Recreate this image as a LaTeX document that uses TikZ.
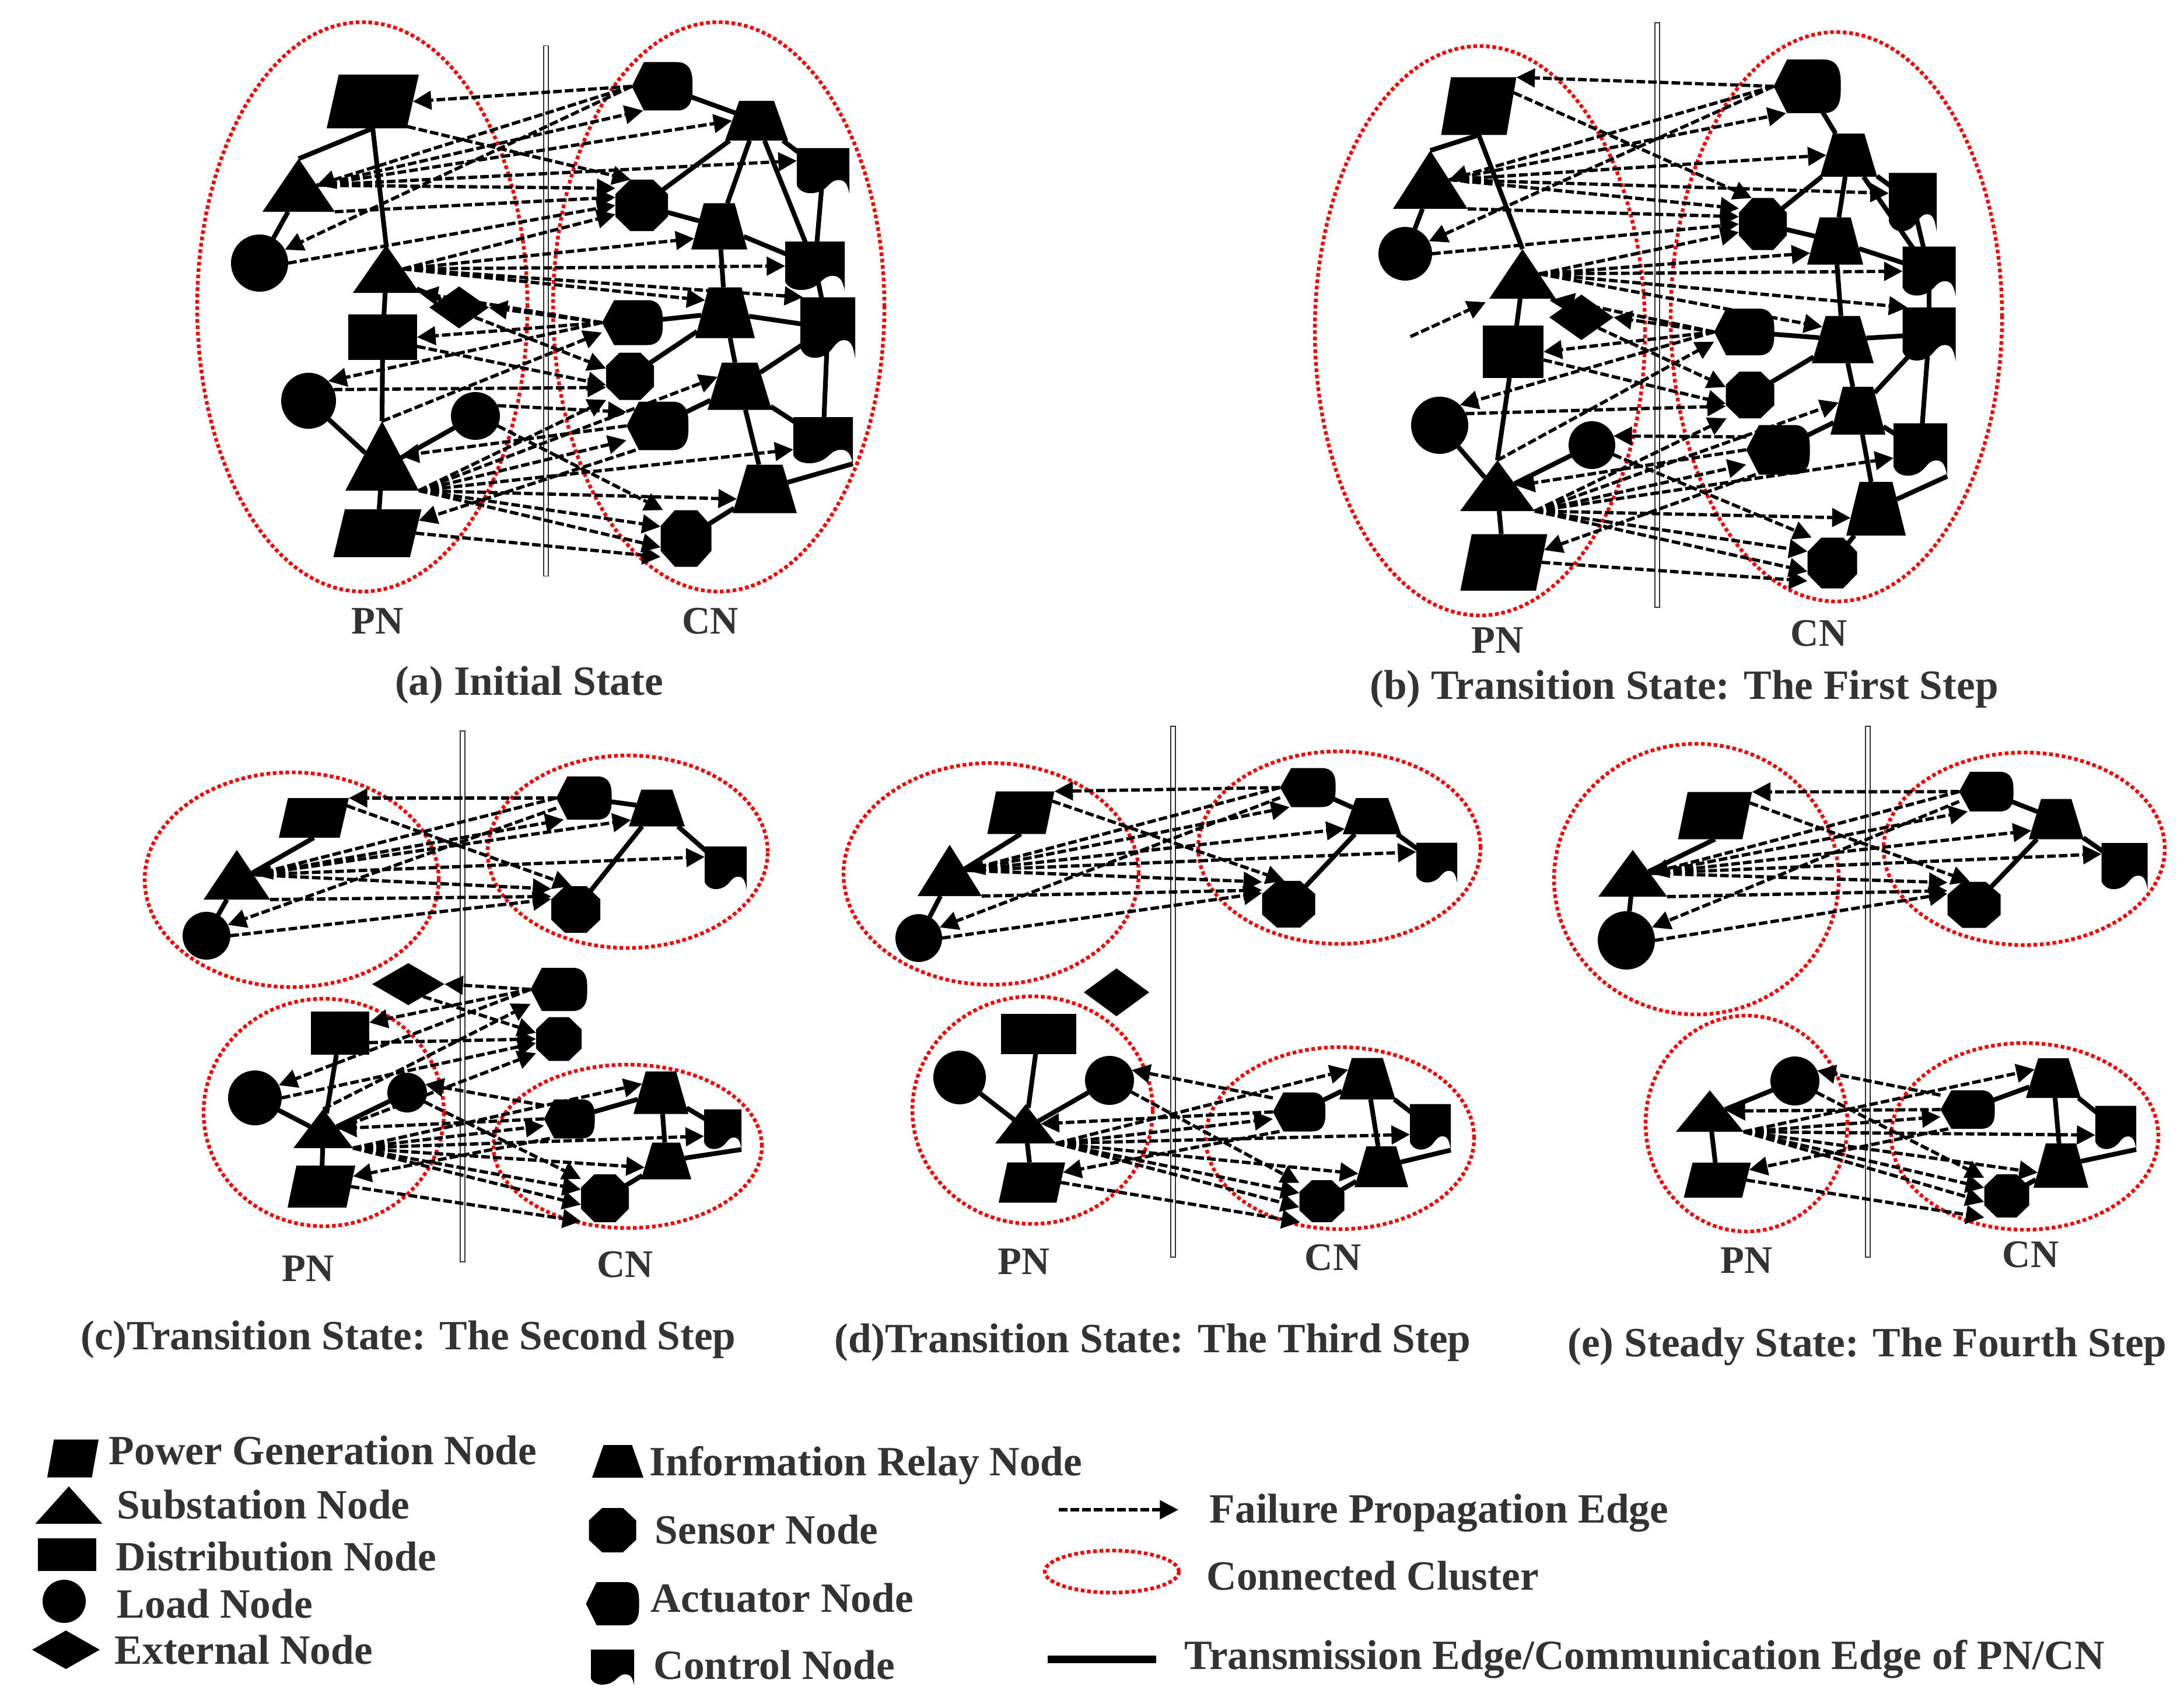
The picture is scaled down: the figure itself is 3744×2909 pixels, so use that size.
\documentclass[tikz,border=0pt]{standalone}
\usepackage{fontspec}
\setmainfont{Liberation Serif}
\usetikzlibrary{shapes.geometric,arrows.meta}
\definecolor{labelgray}{HTML}{333333}
\tikzset{
  blob/.style={fill=black,inner sep=0pt,outer sep=0pt},
  gennode/.style 2 args={blob,trapezium,trapezium left angle=80,trapezium right angle=100,inner sep=5pt,
    trapezium stretches,minimum width=#1*0.01cm,minimum height=#2*0.01cm},
  rlynode/.style 2 args={blob,trapezium,trapezium left angle=68,trapezium right angle=68,inner sep=5pt,
    trapezium stretches,minimum width=#1*0.01cm,minimum height=#2*0.01cm},
  subnode/.style 2 args={blob,isosceles triangle,isosceles triangle stretches,shape border rotate=90,
    anchor=lower side,minimum width=#1*0.01cm,minimum height=#2*0.01cm},
  distnode/.style 2 args={blob,rectangle,minimum width=#1*0.01cm,minimum height=#2*0.01cm},
  loadnode/.style 2 args={blob,ellipse,minimum width=#1*0.01cm,minimum height=#2*0.01cm},
  extnode/.style 2 args={blob,diamond,minimum width=#1*0.01cm,minimum height=#2*0.01cm},
  boxnode/.style 2 args={rectangle,inner sep=0pt,outer sep=0pt,minimum width=#1*0.01cm,minimum height=#2*0.01cm},
  clust/.style 2 args={ellipse,draw=red,line width=1.8pt,dash pattern=on 1.8pt off 1.3pt,
    inner sep=0pt,minimum width=#1*0.01cm,minimum height=#2*0.01cm},
  barnode/.style={rectangle,draw=black!80,fill=white,line width=0.5pt,inner sep=0pt,minimum width=0.08cm},
  txt/.style={text=labelgray,font=\fontsize{20.3}{24}\selectfont\bfseries,inner sep=0pt},
  pnlabel/.style={text=labelgray,font=\fontsize{19}{22}\selectfont\bfseries,inner sep=0pt},
  edgeline/.style={line width=2.3pt},
  failline/.style={line width=1.6pt,dash pattern=on 4.2pt off 1.5pt,-{Triangle[length=9pt,width=9pt]}},
}
% outlines of the odd shapes, in the unit square of their box
\newcommand{\senpath}{(.28,0) -- (.72,0) -- (1,.28) -- (1,.72) -- (.72,1) -- (.28,1) -- (0,.72) -- (0,.28) -- cycle}
\newcommand{\actpath}{(0,.5) -- (.2,1) -- (.75,1) .. controls (.92,1) and (1,.85) .. (1,.6) -- (1,.4)
  .. controls (1,.15) and (.92,0) .. (.75,0) -- (.2,0) -- cycle}
\newcommand{\ctlpath}{(0,1) -- (1,1) -- (1,0) .. controls (.97,.18) and (.93,.3) .. (.8,.3)
  .. controls (.66,.3) and (.62,.18) .. (.52,.1) .. controls (.36,-.03) and (.08,-.03) .. (0,.18) -- cycle}
\begin{document}
\begin{tikzpicture}[x=0.01cm,y=-0.01cm]
  \useasboundingbox (0,0) rectangle (3744,2909);

  % separators and clusters
  \foreach \n/\x/\y/\h in {aBar/936/533/909,bBar/2841/540/1002,cBar/793/1708/910,dBar/2011/1700/910,eBar/3202/1700/910}
    \node[barnode,minimum height=\h*0.01cm] (\n) at (\x,\y) {};
  \foreach \n/\x/\y/\w/\h in {aPN/621/526/566/976,aCN/1232/526/568/976,bPN/2537/567/566/976,bCN/3148/543/568/976,
      cPN1/500/1508/504/368,cCN1/1076/1460/480/330,cPN2/555/1907/412/390,cCN2/1076/1965/460/280,
      dPN1/1699/1498/506/380,dCN1/2296/1453/484/330,dPN2/1770/1903/412/390,dCN2/2297/1951/460/312,
      ePN1/2908/1507/488/464,eCN1/3470/1455/482/330,ePN2/2994/1926/346/370,eCN2/3471/1948/458/320}
    \node[clust={\w}{\h}] (\n) at (\x,\y) {};

  % power side
  \foreach \n/\x/\y/\w/\h in {aGen1/639/174/158/92,aGen2/647/914/151/82,bGen1/2535/182/129/99,bGen2/2578/964/149/97,
      cGen1/538/1402/120/68,cGen2/551/2034/116/72,dGen1/1750/1393/115/73,dGen2/1769/2027/114/69,
      eGen1/2940/1398/127/81,eGen2/2944/2023/115/60,lgGen/125/2500/88/65}
    \node[gennode={\w}{\h}] (\n) at (\x,\y) {};
  \foreach \n/\x/\y/\w/\h in {aSub1/512/363/124/91,aSub2/662/502/114/82,aSub3/655/841/126/119,
      bSub1/2452/358/128/100,bSub2/2610/512/114/85,bSub3/2567/876/128/87,
      cSub1/406/1542/114/85,cSub3/554/1968/102/67,dSub1/1628/1536/110/88,dSub3/1758/1960/104/67,
      eSub1/2799/1537/118/80,eSub3/2931/1940/116/71,lgSub/118/2612/115/64}
    \node[subnode={\w}{\h}] (\n) at (\x,\y) {};
  \foreach \n/\x/\y/\w/\h in {aDist/656/578/118/78,bDist/2594/603/104/90,cDist/583/1771/100/74,dDist/1780/1772/129/69,lgDist/115/2665/100/56}
    \node[distnode={\w}{\h}] (\n) at (\x,\y) {};
  \foreach \n/\x/\y/\w/\h in {aLoad1/445/451/98/98,aLoad2/529/687/94/96,aLoad3/815/713/84/82,
      bLoad1/2409/435/92/92,bLoad2/2468/729/98/98,bLoad3/2729/763/80/82,
      cLoad1/354/1604/82/82,cLoad2/437/1882/92/94,cLoad3/698/1873/68/68,
      dLoad1/1575/1608/80/82,dLoad2/1645/1847/90/92,dLoad3/1902/1852/84/84,
      eLoad1/2788/1612/98/100,eLoad3/3077/1853/84/84,lgLoad/110/2745/74/74}
    \node[loadnode={\w}{\h}] (\n) at (\x,\y) {};
  \foreach \n/\x/\y/\w/\h in {aExt/787/527/102/72,bExt/2711/544/110/78,cExt/700/1687/124/72,dExt/1914/1701/112/82,lgExt/113/2828/116/66}
    \node[extnode={\w}{\h}] (\n) at (\x,\y) {};

  % cyber side
  \foreach \n/\x/\y/\w/\h in {aAct1/1135/148/104/83,aAct2/1084/553/104/77,aAct3/1127/730/106/83,
      bAct1/3098/148/115/92,bAct2/2990/569/103/80,bAct3/3048/771/109/85,
      cAct1/1001/1368/95/74,cAct2/958/1696/97/74,cAct3/976/1918/87/67,
      dAct1/2242/1350/95/67,dAct3/2227/1906/90/67,eAct1/3405/1357/93/68,eAct3/3373/1902/93/66,lgAct/1050/2749/91/74}{
    \node[boxnode={\w}{\h}] (\n) at (\x,\y) {};
    \fill[shift={(\n.south west)},x=\w*0.01cm,y=\h*0.01cm] \actpath;
  }
  \foreach \n/\x/\y/\w/\h in {aCtl1/1411/293/90/78,aCtl2/1397/456/102/84,aCtl3/1419/562/94/105,aCtl4/1411/755/102/80,
      bCtl1/3279/347/82/101,bCtl2/3307/465/91/85,bCtl3/3307/573/91/92,bCtl4/3292/771/92/91,
      cCtl1/1244/1488/72/74,cCtl3/1239/1936/64/69,dCtl1/2463/1479/70/69,dCtl3/2452/1932/70/79,
      eCtl1/3642/1485/79/80,eCtl3/3627/1933/70/75,lgCtl/1050/2858/74/61}{
    \node[boxnode={\w}{\h}] (\n) at (\x,\y) {};
    \fill[shift={(\n.south west)},x=\w*0.01cm,y=\h*0.01cm] \ctlpath;
  }
  \foreach \n/\x/\y/\w/\h in {aSen1/1100/352/90/88,aSen2/1080/645/82/81,aSen3/1176/923/87/97,
      bSen1/3022/384/82/89,bSen2/3000/677/83/80,bSen3/3141/965/85/87,
      cSen1/987/1559/84/80,cSen2/958/1781/78/75,cSen3/1037/2054/82/82,
      dSen1/2209/1550/91/80,dSen3/2266/2059/77/72,eSen1/3384/1551/91/79,eSen3/3440/2050/77/74,lgSen/1050/2623/81/76}{
    \node[boxnode={\w}{\h}] (\n) at (\x,\y) {};
    \fill[shift={(\n.south west)},x=\w*0.01cm,y=\h*0.01cm] \senpath;
  }
  \foreach \n/\x/\y/\w/\h in {aRly1/1297/207/108/68,aRly2/1233/388/96/79,aRly3/1243/536/102/87,aRly4/1268/662/110/81,aRly5/1311/838/110/83,
      bRly1/3169/266/98/74,bRly2/3146/413/96/81,bRly3/3159/582/106/81,bRly4/3185/704/94/82,bRly5/3216/872/102/92,
      cRly1/1126/1385/96/63,cRly3/1133/1873/94/73,cRly4/1142/1990/86/63,
      dRly1/2352/1399/100/62,dRly3/2344/1849/96/71,dRly4/2368/2000/92/70,
      eRly1/3525/1404/94/69,eRly3/3520/1848/94/68,eRly4/3533/1998/94/76,lgRly/1059/2505/88/56}
    \node[rlynode={\w}{\h}] (\n) at (\x,\y) {};

  % solid links
  \foreach \p in {a,b}{
    \foreach \s/\t in {Gen1.south/Sub1.apex,Gen1.south/Sub2.apex,Sub1/Load1,Sub2/Ext,Sub2/Dist,Dist/Sub3.apex,
        Load2/Sub3,Load3/Sub3,Sub3/Gen2,Act1.center/Rly1,Rly1/Ctl1.center,Rly1/Sen1.center,Rly1/Rly2,Rly1/Ctl2.center,
        Sen1.center/Rly2,Rly2/Ctl2.center,Ctl1.center/Ctl2.center,Rly2/Rly3,Ctl2.center/Ctl3.center,Act2.center/Rly3,
        Rly3/Ctl3.center,Sen2.center/Rly3,Rly3/Rly4,Rly4/Ctl3.center,Rly4/Ctl4.center,Act3.center/Rly4,
        Rly4/Rly5,Ctl3.center/Ctl4.center,Rly5/Ctl4.south east,Sen3.center/Rly5}
      \draw[edgeline] (\p\s) -- (\p\t);
  }
  \foreach \p in {c,d,e}{
    \foreach \s/\t in {Gen1.south/Sub1,Sub1/Load1,Act1.center/Rly1,Rly1/Ctl1.center,Rly1/Sen1.center,Load3/Sub3,Sub3/Gen2,
        Act3.center/Rly3,Rly3/Ctl3.center,Rly3/Rly4,Rly4/Ctl3.south east,Sen3.center/Rly4}
      \draw[edgeline] (\p\s) -- (\p\t);
  }
  \foreach \p in {c,d}{
    \foreach \s/\t in {Dist/Sub3,Load2/Sub3}
      \draw[edgeline] (\p\s) -- (\p\t);
  }

  % failure links, first row
  \foreach \p in {a,b}{
    \foreach \s/\t in {Act1.west/Sub1.right side,Act1.west/Load1.28,Sub1.right side/Act1.232,Sub1.right side/Rly1.west,
        Sub1.right side/Ctl1.159,Sub1.right side/Sen1.147,Sub1.right corner/Sen1.163,Load1.east/Sen1.180,
        Sub2.right side/Sen1.199,Sub2.right side/Rly2.206,Sub2.right side/Ctl2.west,Sub2.right side/Ctl3.129,
        Sub2.right side/Rly3.148,Act2.west/Sub2.right corner,Act2.west/Ext.east,Act2.west/Dist.east,Act2.west/Load2.45,
        Sub3.apex/Act2.198,Ext.-32/Sen2.162,Dist.-15/Sen2.200,Load2.24/Sen2.205,Sub3.right corner/Sen2.225,
        Act3.west/Sub3.right side,Sub3.right corner/Act3.205,Sub3.right corner/Rly4.157,Sub3.right corner/Ctl4.197,
        Act3.228/Gen2.17,Sub3.right corner/Rly5.200,Load3.-24/Sen3.129,Sub3.right corner/Sen3.155,
        Sub3.right corner/Sen3.199,Gen2.east/Sen3.216}
      \draw[failline] (\p\s) -- (\p\t);
  }
  \foreach \s/\t in {aAct1.west/aGen1.east,aGen1.-36/aSen1.113,aLoad3.25/aAct3.156,
      bAct1.west/bGen1.top right corner,bGen1.21/bSen1.113,bAct3.158/bLoad3.23}
    \draw[failline] (\s) -- (\t);
  \coordinate (bStrayA) at (2418,577);
  \coordinate (bStrayB) at (2547,518);
  \draw[failline] (bStrayA) -- (bStrayB);

  % failure links, second row
  \foreach \p in {c,d,e}{
    \foreach \s/\t in {Act1.west/Gen1.top right corner,Gen1.20/Sen1.100,Act1.west/Sub1.right side,Sub1.right side/Act1.227,
        Sub1.right side/Rly1.205,Sub1.right side/Ctl1.152,Sub1.right side/Sen1.140,Sub1.right corner/Sen1.152,
        Act1.200/Load1.27,Load1.east/Sen1.157,Act3.152/Load3.25,Load3.-28/Sen3.141,Act3.west/Sub3.right side,
        Sub3.right corner/Act3.195,Sub3.right corner/Rly3.155,Sub3.right corner/Ctl3.200,Act3.225/Gen2.18,
        Sub3.right corner/Rly4.197,Sub3.right corner/Sen3.160,Sub3.right corner/Sen3.195,Gen2.east/Sen3.224}
      \draw[failline] (\p\s) -- (\p\t);
  }
  \foreach \s/\t in {Act2.west/Ext.east,Ext.-40/Sen2.165,Act2.west/Dist.20,Act2.west/Load2.28,Sub3.apex/Act2.207,
      Dist.-18/Sen2.west,Load2.east/Sen2.190,Sub3.right side/Sen2.212}
    \draw[failline] (c\s) -- (c\t);

  % texts
  \foreach \n/\x/\y/\t in {aPNt/647/1065/PN,aCNt/1218/1065/CN,bPNt/2567/1098/PN,bCNt/3118/1086/CN,cPNt/528/2175/PN,cCNt/1072/2168/CN,
      dPNt/1755/2163/PN,dCNt/2285/2156/CN,ePNt/2994/2161/PN,eCNt/3481/2151/CN}
    \node[pnlabel] (\n) at (\x,\y) {\t};
  \node[txt] (aCap) at (907,1174) {(a) Initial State};
  \node[txt] (bCap) at (2887,1181) {(b) Transition State: The First Step};
  \node[txt] (cCap) at (700,2296) {(c)Transition State: The Second Step};
  \node[txt] (dCap) at (1976,2301) {(d)Transition State: The Third Step};
  \node[txt] (eCap) at (3201,2308) {(e) Steady State: The Fourth Step};

  % legend
  \foreach \n/\x/\y/\t in {lgA/186/2486/Power Generation Node,lgB/200/2579/Substation Node,lgC/198/2668/Distribution Node,
      lgD/200/2749/Load Node,lgE/196/2828/External Node,lgF/1113/2512/Information Relay Node,lgG/1122/2622/Sensor Node,
      lgH/1115/2739/Actuator Node,lgI/1120/2854/Control Node,lgJ/2073/2594/Failure Propagation Edge,
      lgK/2068/2701/Connected Cluster}
    \node[txt,anchor=west] (\n) at (\x,\y) {\t};
  \node[txt,anchor=west] (lgL) at (2030,2844) {Transmission Edge/Communication Edge of PN/CN};
  \coordinate (lgFailA) at (1815,2588);
  \coordinate (lgFailB) at (2020,2588);
  \draw[failline] (lgFailA) -- (lgFailB);
  \node[clust={230}{72}] (lgClust) at (1906,2694) {};
  \coordinate (lgLineA) at (1796,2844);
  \coordinate (lgLineB) at (1982,2844);
  \draw[line width=3.7pt] (lgLineA) -- (lgLineB);
\end{tikzpicture}
\end{document}
